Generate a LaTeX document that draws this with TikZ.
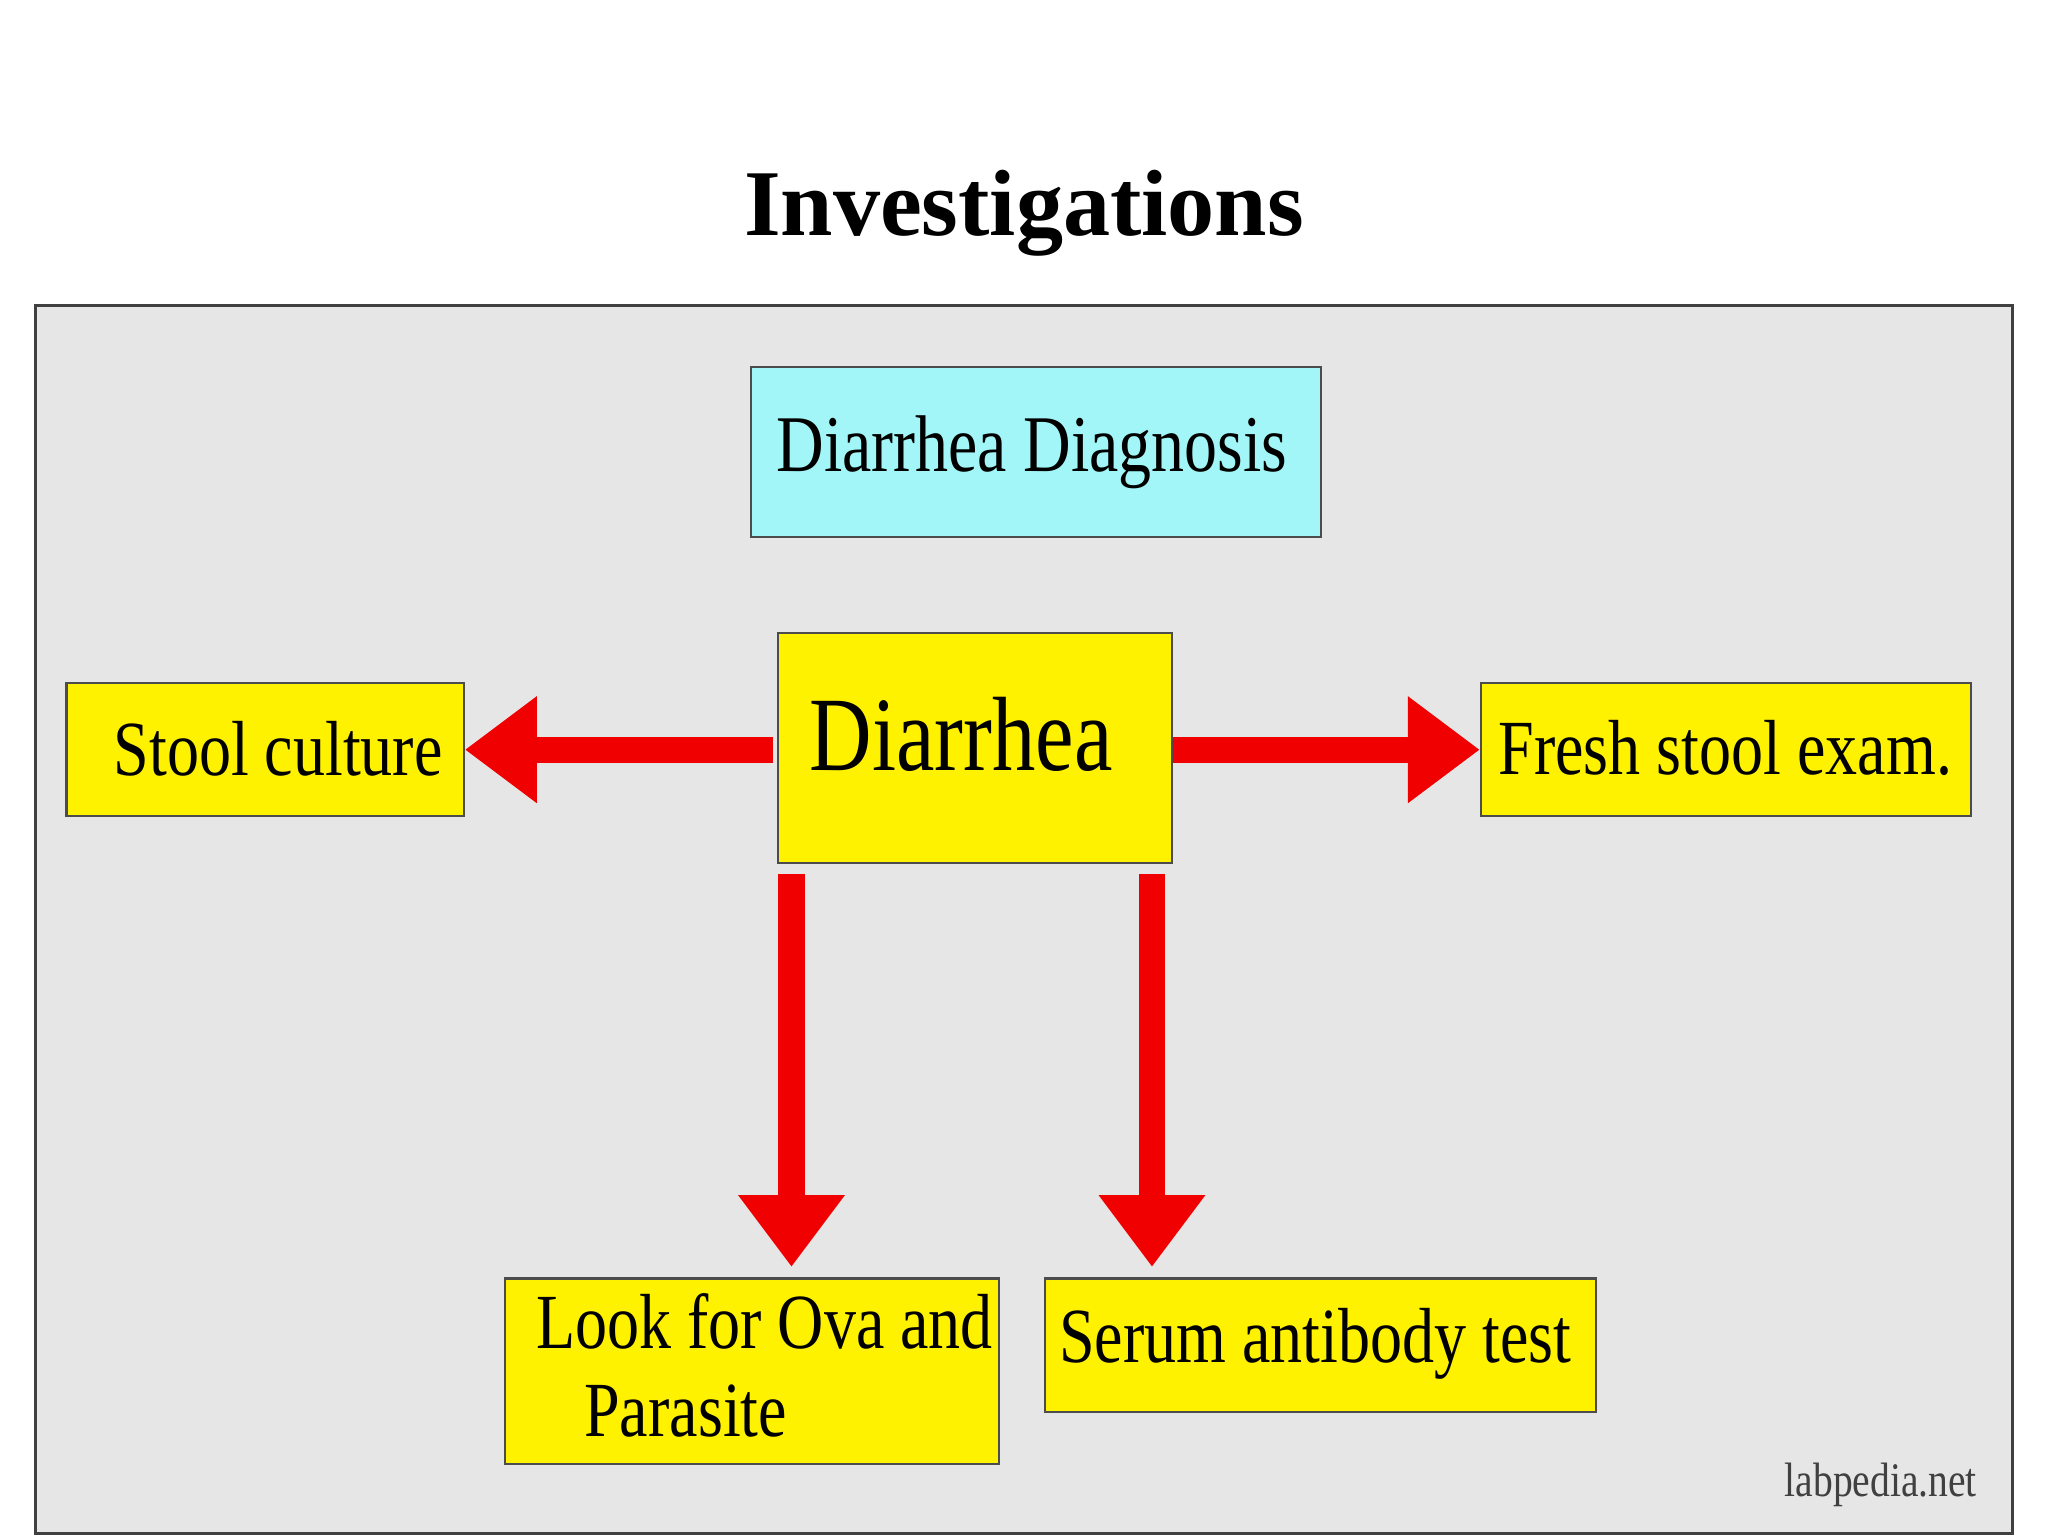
\documentclass[tikz,border=0pt]{standalone}
\usepackage{fontspec}
\setmainfont{Liberation Serif}
\newfontfamily\cond[FakeStretch=0.82]{Liberation Serif}
\usetikzlibrary{arrows.meta,calc}
\definecolor{panel}{HTML}{E6E6E6}
\definecolor{ybox}{HTML}{FFF200}
\definecolor{cbox}{HTML}{A2F6F8}
\definecolor{arr}{HTML}{F00000}
\tikzset{
 ybx/.style={draw=black!70,line width=0.5pt,fill=ybox,anchor=north west,inner sep=0},
 bigarrow/.style={arr,line width=0.2cm,-{Triangle[length=0.55cm,width=0.78cm]}},
 lbl/.style={font=\cond\fontsize{17}{19}\selectfont}
}
\begin{document}
\begin{tikzpicture}[x=0.01cm,y=-0.01cm]
\useasboundingbox (0,0) rectangle (1568,1176);
\fill[white] (0,0) rectangle (1568,1176);
\node[font=\bfseries\fontsize{20.5}{23}\selectfont] (title) at (784,163) {Investigations};
\draw[fill=panel,draw=black!75,line width=0.7pt] (27,234) rectangle (1541,1174);
\node[ybx,fill=cbox,minimum width=4.36cm,minimum height=1.3cm] (dd) at (574,280) {};
\node[font=\cond\fontsize{17.5}{19}\selectfont] at (790,346) {Diarrhea Diagnosis};
\node[ybx,minimum width=3.01cm,minimum height=1.76cm] (d) at (595,484) {};
\node[font=\cond\fontsize{23}{25}\selectfont] at (736,562) {Diarrhea};
\node[ybx,minimum width=3.04cm,minimum height=1.02cm] (sc) at (50,522) {};
\node[lbl] at (213,573) {Stool culture};
\node[ybx,minimum width=3.75cm,minimum height=1.02cm] (fs) at (1133,522) {};
\node[lbl] at (1321,573) {Fresh stool exam.};
\node[ybx,minimum width=3.78cm,minimum height=1.42cm] (ov) at (386,978) {};
\node[lbl,anchor=west] at (398,1012) {Look for Ova and};
\node[lbl,anchor=west] at (435,1080) {Parasite};
\node[ybx,minimum width=4.22cm,minimum height=1.02cm] (se) at (799,978) {};
\node[lbl] at (1007,1029) {Serum antibody test};
\node[font=\cond\fontsize{10.5}{12}\selectfont,text=black!75] (lp) at (1440,1137) {labpedia.net};
\draw[bigarrow] (d.west |- 0,574) ++(-3,0) -- (sc.east |- 0,574);
\draw[bigarrow] (d.east |- 0,574) -- (fs.west |- 0,574);
\draw[bigarrow] ($(d.south west)+(11,7)$) -- ($(ov.north west)+(220,-8)$);
\draw[bigarrow] ($(d.south west)+(287,7)$) -- ($(se.north west)+(83,-8)$);
\end{tikzpicture}
\end{document}
